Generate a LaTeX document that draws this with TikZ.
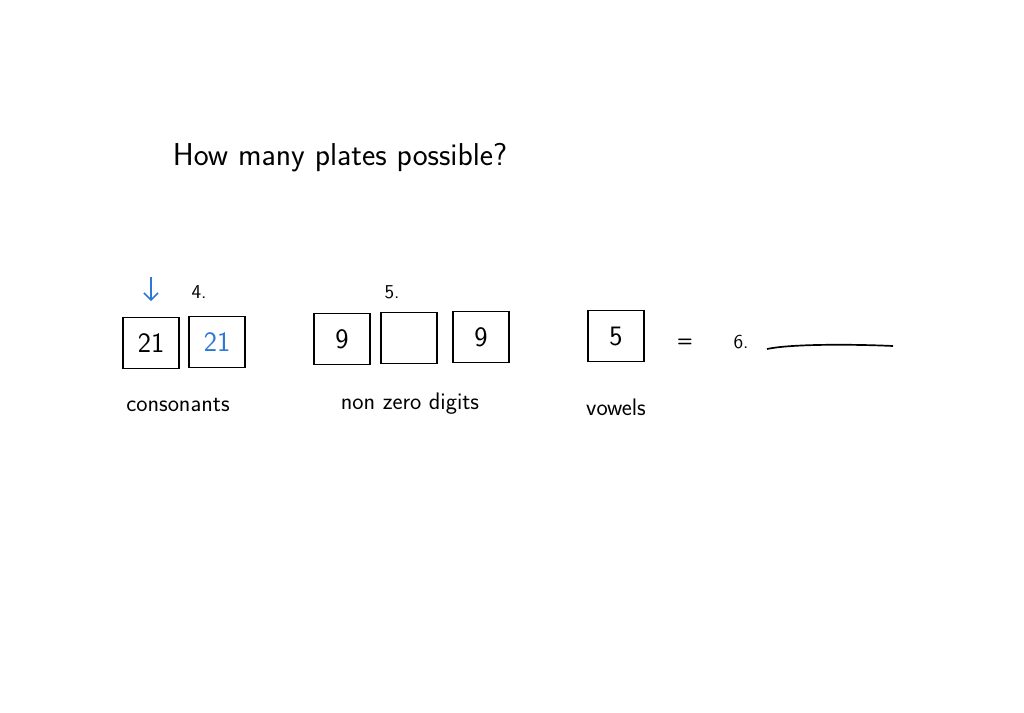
\documentclass[tikz,border=0pt]{standalone}
\usetikzlibrary{arrows.meta}
\definecolor{penblue}{RGB}{45,120,215}
\tikzset{
  slot/.style={draw, line width=1.2pt, minimum width=1.4cm, minimum height=1.27cm, inner sep=0pt, font=\sffamily\fontsize{20}{22}\selectfont},
  note/.style={font=\sffamily\fontsize{17}{19}\selectfont},
  marker/.style={font=\sffamily\fontsize{14}{16}\selectfont}
}
\begin{document}
\begin{tikzpicture}[x=0.025cm, y=-0.025cm]
  \useasboundingbox (0,0) rectangle (1024,712);

  \node[font=\sffamily\fontsize{22.5}{25}\selectfont] (title) at (340,158) {How many plates possible?};

  % consonants
  \node[slot] (c1) at (151,343) {21};
  \node[slot, text=penblue] (c2) at (217,342) {21};
  \node[note] (cons) at (178,405) {consonants};

  % nonzero digits
  \node[slot] (d1) at (342,339) {9};
  \node[slot] (d2) at (409,338) {};
  \node[slot] (d3) at (481,337) {9};
  \node[note] (digs) at (410,404) {non zero digits};

  % vowels
  \node[slot] (v1) at (616,336) {5};
  \node[note] (vows) at (616,407) {vowels};

  \node[marker] (m4) at (199,292) {4.};
  \node[marker] (m5) at (392,292) {5.};
  \node[marker, font=\sffamily\bfseries\fontsize{13}{15}\selectfont] (eq) at (685,343) {=};
  \node[marker] (m6) at (741,342) {6.};

  \coordinate (arrtop) at (151,277);
  \coordinate (arrbot) at (151,301);
  \draw[-{Straight Barb[length=5pt]}, penblue, line width=1.1pt] (arrtop) -- (arrbot);

  \coordinate (blankl) at (767,349);
  \coordinate (blankr) at (893,346);
  \draw[line width=1.2pt] (blankl) .. controls (790,344) and (850,344) .. (blankr);
\end{tikzpicture}
\end{document}
